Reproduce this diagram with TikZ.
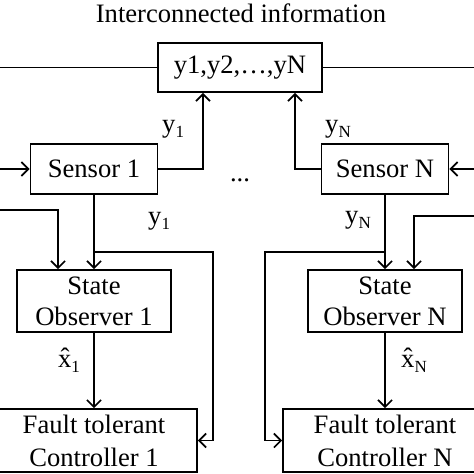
\documentclass[tikz,border=0pt]{standalone}
\usepackage{fontspec}
\setmainfont{Liberation Serif}
\usetikzlibrary{arrows.meta,calc}
\newcommand{\mysub}[1]{\raisebox{-5pt}{\fontsize{17}{17}\selectfont #1}}
\begin{document}
\begin{tikzpicture}[x=1pt,y=-1pt,
  every node/.style={font=\fontsize{26.6}{31}\selectfont, inner sep=0pt},
  blk/.style={draw, line width=1.7pt, align=center},
  ln/.style={line width=1.7pt},
  arr/.style={ln, -{Straight Barb[length=7pt,width=14pt]}},
  lbl/.style={anchor=base west}]
\useasboundingbox (0,0) rectangle (474,474);
\clip (0,0) rectangle (474,474);
% nodes
\node[anchor=base] (title) at (241,22) {Interconnected information};
\node[blk, minimum width=164pt, minimum height=49pt] (top) at (240,67.5) {y1,y2,\dots,yN};
\node[blk, minimum width=127pt, minimum height=50pt] (s1) at (94,169) {Sensor 1};
\node[blk, minimum width=127pt, minimum height=50pt] (sN) at (385,169) {Sensor N};
\node[anchor=base] (dots) at (240,181) {...};
\node[blk, minimum width=154pt, minimum height=62pt] (o1) at (94,301) {State\\Observer 1};
\node[blk, minimum width=154pt, minimum height=62pt] (oN) at (385,301) {State\\Observer N};
\node[blk, minimum width=206pt, minimum height=63pt, font=\fontsize{26.6}{33}\selectfont] (f1) at (94,440.5) {Fault tolerant\\Controller 1};
\node[blk, minimum width=204pt, minimum height=63pt, font=\fontsize{26.6}{33}\selectfont] (fN) at (385,440.5) {Fault tolerant\\Controller N};
% labels
\node[lbl] (ly1a) at (162,132) {y\mysub{1}};
\node[lbl] (lyNa) at (325,132) {y\mysub{N}};
\node[lbl] (ly1b) at (148,224) {y\mysub{1}};
\node[lbl] (lyNb) at (345,223) {y\mysub{N}};
\node[lbl] (lx1) at (58,367) {\^{x}\mysub{1}};
\node[lbl] (lxN) at (401,367) {\^{x}\mysub{N}};
% free ends
\coordinate (L0) at (0,67.5);
\coordinate (R0) at (474,67.5);
\coordinate (inL) at (0,169);
\coordinate (inR) at (474,169);
\coordinate (inL2) at (0,210);
\coordinate (inR2) at (474,216);
\coordinate (b1) at (94,252);
\coordinate (r1) at (213,252);
\coordinate (bN) at (385,252);
\coordinate (rN) at (265,252);
% connectors
\draw[ln] (L0) -- (top.west);
\draw[ln] (top.east) -- (R0);
\draw[arr] (s1.east) -| ($(top.south)+(-37,0)$);
\draw[arr] (sN.west) -| ($(top.south)+(55,0)$);
\draw[arr] (inL) -- (s1.west);
\draw[arr] (inR) -- (sN.east);
\draw[arr] (s1.south) -- (o1.north);
\draw[arr] (sN.south) -- (oN.north);
\draw[arr] (b1) -- (r1) |- (f1.east);
\draw[arr] (bN) -- (rN) |- (fN.west);
\draw[arr] (inL2) -| ($(o1.north)+(-36,0)$);
\draw[arr] (inR2) -| ($(oN.north)+(29,0)$);
\draw[arr] (o1.south) -- (f1.north);
\draw[arr] (oN.south) -- (fN.north);
\end{tikzpicture}
\end{document}
